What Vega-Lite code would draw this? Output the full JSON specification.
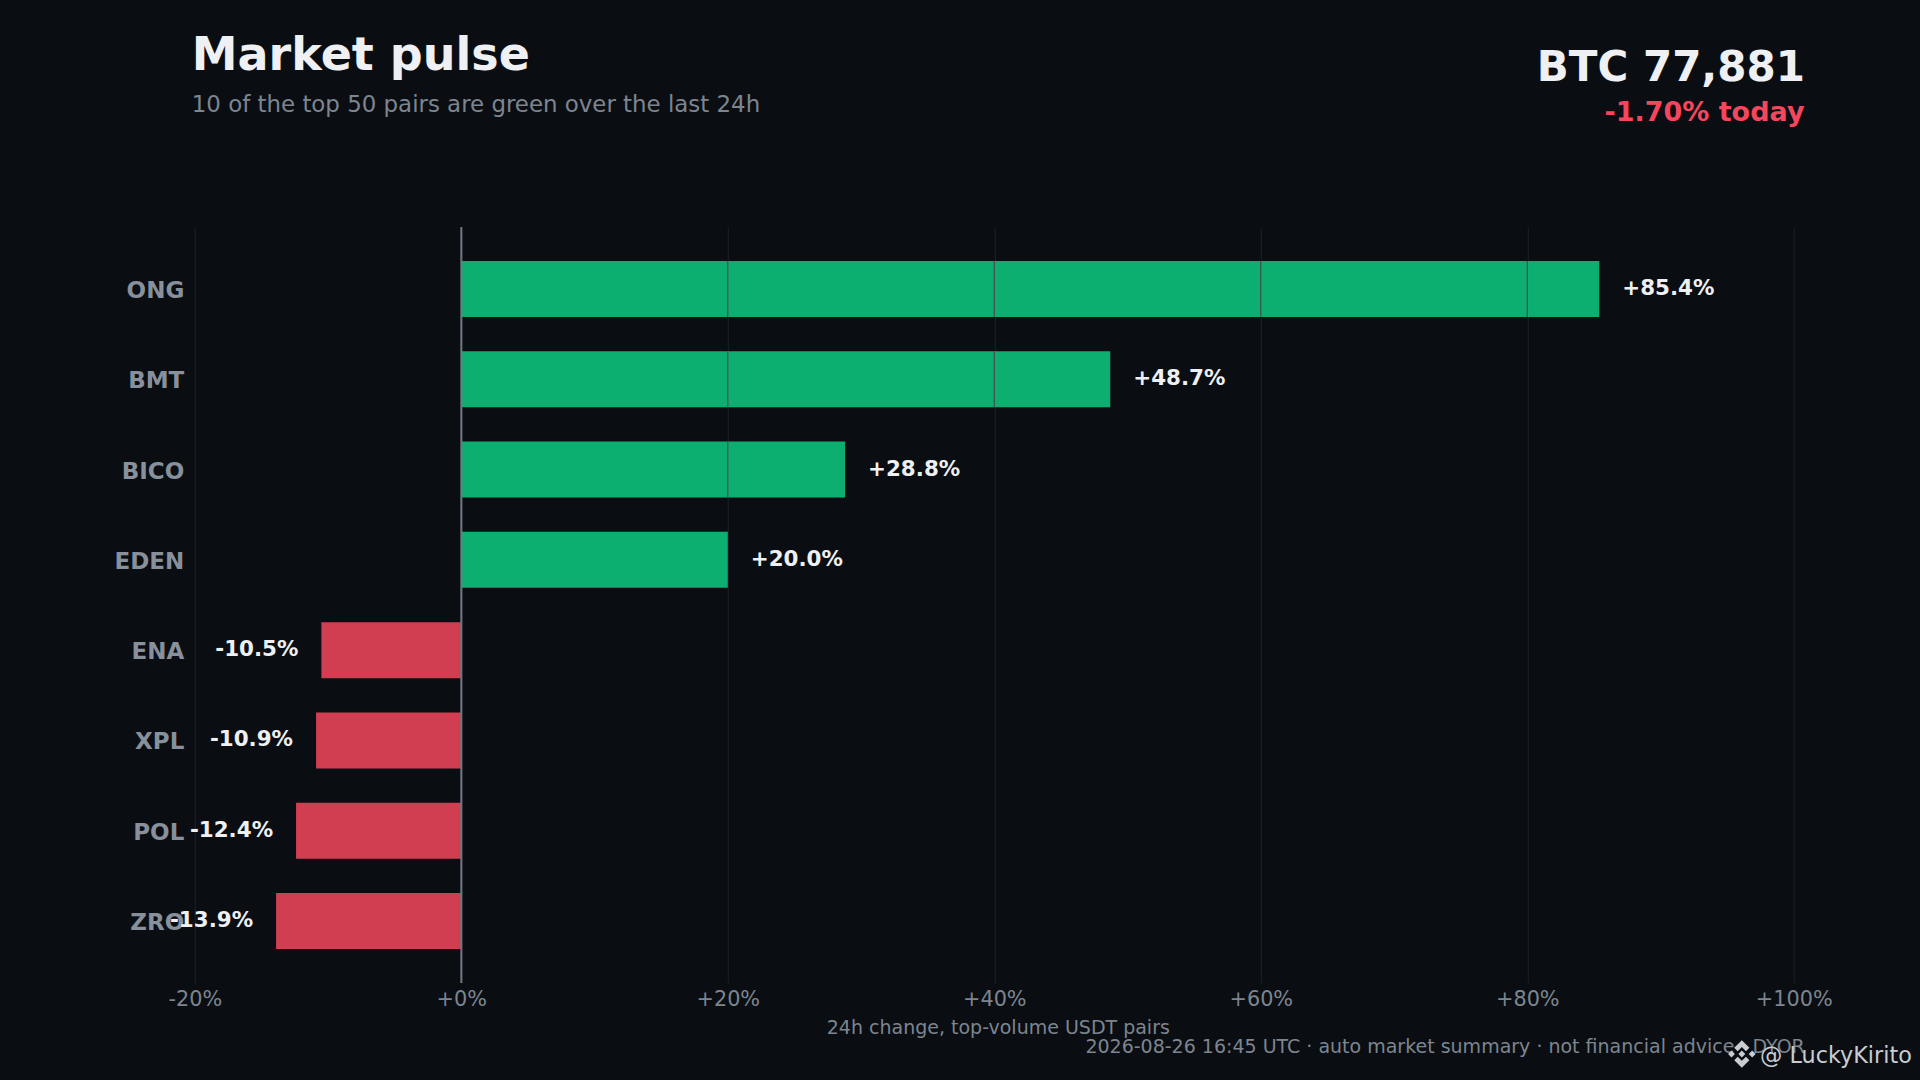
{
  "$schema": "https://vega.github.io/schema/vega-lite/v6.json",
  "description": "Top-volume USDT pairs by 24h change",
  "autosize": {"type": "none"},
  "width": 1599,
  "height": 756,
  "padding": {"left": 194.8, "top": 227, "right": 126.2, "bottom": 97},
  "background": "#0a0e12",
  "title": {
    "text": "Market pulse",
    "subtitle": "10 of the top 50 pairs are green over the last 24h",
    "anchor": "start",
    "frame": "group",
    "dx": -3,
    "offset": -71.2,
    "font": "DejaVu Sans",
    "fontSize": 46,
    "fontWeight": "bold",
    "color": "#eef0f4",
    "subtitleFont": "DejaVu Sans",
    "subtitleFontSize": 22.9,
    "subtitleColor": "#7d8590",
    "subtitlePadding": 14.5
  },
  "config": {"view": {"stroke": null}},
  "datasets": {
    "pairs": [
      {"pair": "ONG", "change": 85.4, "label": "+85.4%"},
      {"pair": "BMT", "change": 48.7, "label": "+48.7%"},
      {"pair": "BICO", "change": 28.8, "label": "+28.8%"},
      {"pair": "EDEN", "change": 20.0, "label": "+20.0%"},
      {"pair": "ENA", "change": -10.5, "label": "-10.5%"},
      {"pair": "XPL", "change": -10.9, "label": "-10.9%"},
      {"pair": "POL", "change": -12.4, "label": "-12.4%"},
      {"pair": "ZRO", "change": -13.9, "label": "-13.9%"}
    ],
    "crossings": [
      {"pair": "ONG", "tick": 20},
      {"pair": "ONG", "tick": 40},
      {"pair": "ONG", "tick": 60},
      {"pair": "ONG", "tick": 80},
      {"pair": "BMT", "tick": 20},
      {"pair": "BMT", "tick": 40},
      {"pair": "BICO", "tick": 20}
    ]
  },
  "data": {"name": "pairs"},
  "encoding": {
    "y": {
      "field": "pair",
      "type": "nominal",
      "sort": null,
      "title": null,
      "scale": {
        "domain": ["ONG", "BMT", "BICO", "EDEN", "ENA", "XPL", "POL", "ZRO"],
        "paddingInner": 0.38,
        "paddingOuter": 0.377
      },
      "axis": {
        "domain": false,
        "ticks": false,
        "grid": false,
        "labelPadding": 11,
        "labelOffset": 2,
        "labelFont": "DejaVu Sans",
        "labelFontSize": 23,
        "labelFontWeight": "bold",
        "labelColor": "#87909b"
      }
    }
  },
  "layer": [
    {
      "mark": {"type": "bar", "opacity": 0.85},
      "encoding": {
        "x": {
          "field": "change",
          "type": "quantitative",
          "title": "24h change, top-volume USDT pairs",
          "scale": {"domain": [-20, 100], "nice": false},
          "axis": {
            "values": [-20, 0, 20, 40, 60, 80, 100],
            "labelExpr": "(datum.value >= 0 ? '+' : '') + datum.value + '%'",
            "domain": false,
            "ticks": false,
            "grid": true,
            "gridColor": "#1a1f25",
            "gridWidth": 1.2,
            "labelPadding": 6,
            "labelFlush": false,
            "labelFont": "DejaVu Sans",
            "labelFontSize": 20.8,
            "labelColor": "#7d8590",
            "labelOverlap": false,
            "titleFont": "DejaVu Sans",
            "titleFontSize": 19,
            "titleFontWeight": "normal",
            "titleColor": "#7d8590",
            "titleX": 803,
            "titleY": 35
          }
        },
        "color": {
          "condition": {"test": "datum.change > 0", "value": "#0ecb81"},
          "value": "#f6465d"
        }
      }
    },
    {
      "data": {"name": "crossings"},
      "mark": {"type": "tick", "color": "#434c4c", "size": 56, "thickness": 1.2, "opacity": 1},
      "encoding": {
        "x": {"field": "tick", "type": "quantitative"}
      }
    },
    {
      "data": {"values": [{"zero": 0}]},
      "mark": {"type": "rule", "color": "#6e7681", "strokeWidth": 2},
      "encoding": {
        "x": {"field": "zero", "type": "quantitative"},
        "y": {"value": 0},
        "y2": {"value": 756}
      }
    },
    {
      "transform": [{"filter": "datum.change > 0"}],
      "mark": {"type": "text", "align": "left", "dx": 23, "font": "DejaVu Sans", "fontSize": 21.4, "fontWeight": "bold", "color": "#eef0f4"},
      "encoding": {
        "x": {"field": "change", "type": "quantitative"},
        "text": {"field": "label"}
      }
    },
    {
      "transform": [{"filter": "datum.change < 0"}],
      "mark": {"type": "text", "align": "right", "dx": -23, "font": "DejaVu Sans", "fontSize": 21.4, "fontWeight": "bold", "color": "#eef0f4"},
      "encoding": {
        "x": {"field": "change", "type": "quantitative"},
        "text": {"field": "label"}
      }
    },
    {
      "data": {"values": [{"note": "BTC 77,881"}]},
      "mark": {"type": "text", "align": "right", "baseline": "alphabetic", "dx": 11.2, "dy": -208, "font": "DejaVu Sans", "fontSize": 42, "fontWeight": "bold", "color": "#eef0f4"},
      "encoding": {
        "x": {"datum": 100},
        "y": {"datum": "ONG"},
        "text": {"field": "note"}
      }
    },
    {
      "data": {"values": [{"note": "-1.70% today"}]},
      "mark": {"type": "text", "align": "right", "baseline": "alphabetic", "dx": 10.7, "dy": -168, "font": "DejaVu Sans", "fontSize": 27, "fontWeight": "bold", "color": "#f6465d"},
      "encoding": {
        "x": {"datum": 100},
        "y": {"datum": "ONG"},
        "text": {"field": "note"}
      }
    },
    {
      "data": {"values": [{"note": "2026-08-26 16:45 UTC · auto market summary · not financial advice · DYOR"}]},
      "mark": {"type": "text", "align": "right", "baseline": "alphabetic", "dx": 11, "dy": 132, "font": "DejaVu Sans", "fontSize": 19, "color": "#7d8590"},
      "encoding": {
        "x": {"datum": 100},
        "y": {"datum": "ZRO"},
        "text": {"field": "note"}
      }
    },
    {
      "data": {"values": [{"note": "@ LuckyKirito"}]},
      "mark": {"type": "text", "align": "right", "baseline": "alphabetic", "dx": 118, "dy": 142, "font": "DejaVu Sans", "fontSize": 22.3, "color": "#c9ccd0"},
      "encoding": {
        "x": {"datum": 100},
        "y": {"datum": "ZRO"},
        "text": {"field": "note"}
      }
    },
    {
      "data": {"values": [{"note": "logo"}]},
      "mark": {
        "type": "point",
        "filled": true,
        "opacity": 1,
        "color": "#c9ccd0",
        "size": 760,
        "yOffset": 133,
        "shape": "M0,-.25L.25,0L0,.25L-.25,0ZM-1,0L-.75,-.25L-.5,0L-.75,.25ZM1,0L.75,-.25L.5,0L.75,.25ZM0,-1L.55,-.45L.3,-.2L0,-.5L-.3,-.2L-.55,-.45ZM0,1L.55,.45L.3,.2L0,.5L-.3,.2L-.55,.45Z"
      },
      "encoding": {
        "x": {"datum": 96.1},
        "y": {"datum": "ZRO"}
      }
    }
  ]
}
